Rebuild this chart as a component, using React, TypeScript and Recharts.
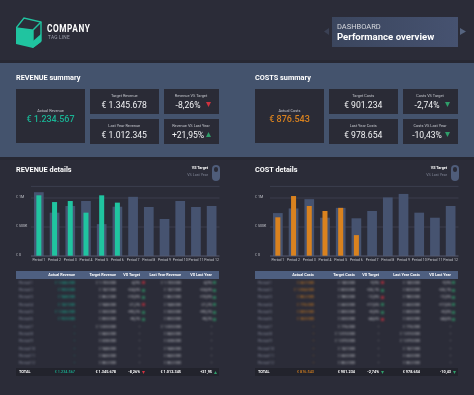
import React from "react";
import { BarChart, Bar, XAxis, YAxis, CartesianGrid } from "recharts";

const periods = ["Period 1", "Period 2", "Period 3", "Period 4", "Period 5", "Period 6", "Period 7", "Period 8", "Period 9", "Period 10", "Period 11", "Period 12"];
const yTicks = [0, 500000, 1000000];
const yTickLabels = ["€ 0", "€ 500K", "€ 1M"];

const revenueTarget = [1100000, 747000, 862000, 948000, 550000, 850000, 1020000, 845000, 638000, 948000, 845000, 862000];
const revenueActual = [1046000, 930000, 948000, 747000, 1046000, 920000, null, null, null, null, null, null];
const costTarget = [740000, 820000, 980000, 660000, 830000, 650000, 776000, 1010000, 1070000, 747000, 660000, 862000];
const costActual = [667000, 1034000, 862000, 776000, 830000, 360000, null, null, null, null, null, null];

const revenueHeaders = ["Actual Revenue", "Target Revenue", "VS Target", "Last Year Revenue", "VS Last Year"];
const costHeaders = ["Actual Costs", "Target Costs", "VS Target", "Last Year Costs", "VS Last Year"];

const revActualCells = ["€ 1.046.000", "€ 930.000", "€ 948.000", "€ 747.000", "€ 1.046.000", "€ 920.000", "-", "-", "-", "-", "-", "-"];
const revTargetCells = ["€ 1.100.000", "€ 747.000", "€ 862.000", "€ 948.000", "€ 550.000", "€ 850.000", "€ 1.020.000", "€ 845.000", "€ 638.000", "€ 948.000", "€ 845.000", "€ 862.000"];
const revVsCells = ["-4,9%", "+24,5%", "+10,0%", "-21,2%", "+90,2%", "+8,2%", "-", "-", "-", "-", "-", "-"];
const costActualCells = ["€ 667.000", "€ 1.034.000", "€ 862.000", "€ 776.000", "€ 830.000", "€ 360.000", "-", "-", "-", "-", "-", "-"];
const costTargetCells = ["€ 740.000", "€ 820.000", "€ 980.000", "€ 660.000", "€ 830.000", "€ 650.000", "€ 776.000", "€ 1.010.000", "€ 1.070.000", "€ 747.000", "€ 660.000", "€ 862.000"];
const costVsCells = ["-9,9%", "+26,1%", "-12,0%", "+17,6%", "+0,0%", "-44,6%", "-", "-", "-", "-", "-", "-"];

const revenueTotals = ["€ 1.234.567", "€ 1.345.678", "-8,26%", "€ 1.012.345", "+21,95"];
const costTotals = ["€ 876.543", "€ 901.234", "-2,74%", "€ 978.654", "-10,43"];

const GREEN = "#20c4a0";
const ORANGE = "#d9821f";
const SLATE = "#465370";
const UP = "#2f9e6a";
const DOWN = "#d0323f";
const FONT = "Roboto, sans-serif";

function Txt({ x, y, size, color = "#fff", weight = 400, align = "left", font = FONT, spacing = 0, squeeze = 1, children }: any) {
  const shift = align === "center" ? "-50%" : align === "right" ? "-100%" : "0";
  return (
    <div
      style={{
        position: "absolute",
        left: x,
        top: y,
        transform: `translate(${shift}, -50%) scaleX(${squeeze})`,
        transformOrigin: "left center",
        fontFamily: font,
        fontSize: size,
        fontWeight: weight,
        color,
        letterSpacing: spacing,
        lineHeight: 1,
        whiteSpace: "nowrap",
      }}
    >
      {children}
    </div>
  );
}

function Box({ x, y, w, h, color, radius = 0, opacity = 1 }: any) {
  return <div style={{ position: "absolute", left: x, top: y, width: w, height: h, background: color, borderRadius: radius, opacity }} />;
}

function Arrow({ x, y, up, color, size = 5 }: any) {
  const points = up ? `0,${size} ${size},${size} ${size / 2},0` : `0,0 ${size},0 ${size / 2},${size}`;
  return (
    <svg style={{ position: "absolute", left: x, top: y - size / 2 }} width={size} height={size}>
      <polygon points={points} fill={color} />
    </svg>
  );
}

function Card({ x, y, w, h, label, value, arrow }: any) {
  return (
    <>
      <Box x={x} y={y} w={w} h={h} color="#2a2b36" />
      <Txt x={x + w / 2} y={y + 7} size={3.9} color="#c4c6cc" align="center">{label}</Txt>
      <Txt x={x + w / 2 - (arrow ? 3 : 0)} y={y + 15.5} size={8.6} color="#f2f3f5" align="center">{value}</Txt>
      {arrow && <Arrow x={x + w / 2 + 15} y={y + 15.5} up={arrow.up} color={arrow.color} />}
    </>
  );
}

function Summary({ x, title, actualLabel, actual, actualColor, targetLabel, target, lastLabel, last, vsTargetLabel, vsTarget, vsLastLabel, vsLast, arrowTarget, arrowLast }: any) {
  return (
    <>
      <Txt x={x} y={77.5} size={7.3} weight={700}>{title}</Txt>
      <Box x={x} y={89} w={69} h={54} color="#2a2b36" />
      <Txt x={x + 34.5} y={111} size={3.9} color="#c4c6cc" align="center">{actualLabel}</Txt>
      <Txt x={x + 34.5} y={119} size={9} color={actualColor} weight={500} align="center">{actual}</Txt>
      <Card x={x + 74} y={89} w={68.5} h={25} label={targetLabel} value={target} />
      <Card x={x + 74} y={119} w={68.5} h={24.5} label={lastLabel} value={last} />
      <Card x={x + 147.5} y={89} w={55} h={25} label={vsTargetLabel} value={vsTarget} arrow={arrowTarget} />
      <Card x={x + 147.5} y={119} w={55} h={24.5} label={vsLastLabel} value={vsLast} arrow={arrowLast} />
    </>
  );
}

function YTick({ y, payload }: any) {
  const idx = yTicks.indexOf(payload.value);
  return (
    <text x={0} y={y - 1} fontSize={3.6} fill="#c4c6cc" fontFamily={FONT} dominantBaseline="middle">
      {yTickLabels[idx]}
    </text>
  );
}

function XTick({ x, y, payload }: any) {
  return (
    <text x={x} y={y + 2.5} fontSize={3.5} fill="#c4c6cc" fontFamily={FONT} textAnchor="middle" dominantBaseline="middle">
      {payload.value}
    </text>
  );
}

// narrow bar drawn inside the wide one, same scale
function NarrowBar({ x, y, width, height, fill }: any) {
  if (!height) return null;
  return <rect x={x + width / 2 - 2.5} y={y} width={5} height={height} fill={fill} />;
}

function DetailChart({ x, target, actual, color }: any) {
  const rows = periods.map((period, i) => ({ period, target: target[i], actual: actual[i] }));
  return (
    <div style={{ position: "absolute", left: x, top: 180 }}>
      <BarChart width={203.5} height={86} data={rows} barGap={-9.7} margin={{ top: 6.4, right: 0, bottom: 0, left: 0 }}>
        <CartesianGrid horizontal vertical={false} stroke="#474c5c" strokeWidth={0.6} />
        <XAxis
          dataKey="period"
          height={10}
          interval={0}
          tick={<XTick />}
          tickLine={false}
          tickSize={0}
          axisLine={{ stroke: "#5a6072", strokeWidth: 0.7 }}
        />
        <YAxis
          domain={[0, 1200000]}
          ticks={yTicks}
          width={15}
          tick={<YTick />}
          axisLine={false}
          tickLine={false}
          interval={0}
        />
        <Bar dataKey="target" fill={SLATE} barSize={9.7} isAnimationActive={false} />
        <Bar dataKey="actual" fill={color} barSize={9.7} shape={<NarrowBar />} isAnimationActive={false} />
      </BarChart>
    </div>
  );
}

function Toggle({ right }: any) {
  return (
    <>
      <Txt x={right - 11} y={169.2} size={3.7} weight={700} align="right">VS Target</Txt>
      <Txt x={right - 11} y={176} size={3.7} color="#7f8494" align="right">VS Last Year</Txt>
      <Box x={right - 7} y={165} w={7.5} h={16} color="#4f5d7a" radius={4} />
      <div style={{ position: "absolute", left: right - 5.5, top: 166.5, width: 4.5, height: 5.5, background: "#2a2b36", borderRadius: 3 }} />
    </>
  );
}

function DetailTable({ x, headers, actualCells, targetCells, vsCells, totals, actualColor, totalArrows }: any) {
  const rowY = (i: number) => 282.7 + 7.33 * i;
  return (
    <>
      <Box x={x} y={271} w={203} h={8.3} color="#4e5f80" />
      <Txt x={x + 59} y={275.2} size={3.8} weight={700} align="right">{headers[0]}</Txt>
      <Txt x={x + 100} y={275.2} size={3.8} weight={700} align="right">{headers[1]}</Txt>
      <Txt x={x + 124} y={275.2} size={3.8} weight={700} align="right">{headers[2]}</Txt>
      <Txt x={x + 165} y={275.2} size={3.8} weight={700} align="right">{headers[3]}</Txt>
      <Txt x={x + 196} y={275.2} size={3.8} weight={700} align="right">{headers[4]}</Txt>
      <div style={{ position: "absolute", left: 0, top: 0, filter: "blur(0.9px)" }}>
        {periods.map((period, i) => {
          const up = vsCells[i].startsWith("+");
          const filled = vsCells[i] !== "-";
          return (
            <React.Fragment key={period}>
              <Txt x={x + 3} y={rowY(i)} size={3.8} color="#8d93a3">{period}</Txt>
              <Txt x={x + 59} y={rowY(i)} size={3.8} color={actualColor} align="right">{actualCells[i]}</Txt>
              <Txt x={x + 100} y={rowY(i)} size={3.8} color="#c4c6cc" align="right">{targetCells[i]}</Txt>
              <Txt x={x + 124} y={rowY(i)} size={3.8} color="#c4c6cc" align="right">{vsCells[i]}</Txt>
              <Txt x={x + 165} y={rowY(i)} size={3.8} color="#c4c6cc" align="right">{targetCells[i]}</Txt>
              <Txt x={x + 196} y={rowY(i)} size={3.8} color="#c4c6cc" align="right">{vsCells[i]}</Txt>
              {filled && <Box x={x + 125.5} y={rowY(i) - 1.5} w={3} h={3} color={up ? UP : DOWN} opacity={0.7} />}
              {filled && <Box x={x + 197} y={rowY(i) - 1.5} w={3} h={3} color={UP} opacity={0.7} />}
            </React.Fragment>
          );
        })}
      </div>
      <Box x={x} y={368} w={203} h={8} color="#22232c" />
      <Txt x={x + 3} y={372} size={3.8} weight={700}>TOTAL</Txt>
      <Txt x={x + 59} y={372} size={3.8} color={actualColor} weight={500} align="right">{totals[0]}</Txt>
      <Txt x={x + 100} y={372} size={3.8} weight={700} align="right">{totals[1]}</Txt>
      <Txt x={x + 124} y={372} size={3.8} weight={700} align="right">{totals[2]}</Txt>
      <Arrow x={x + 125.5} y={372} up={totalArrows[0].up} color={totalArrows[0].color} size={3} />
      <Txt x={x + 165} y={372} size={3.8} weight={700} align="right">{totals[3]}</Txt>
      <Txt x={x + 196} y={372} size={3.8} weight={700} align="right">{totals[4]}</Txt>
      <Arrow x={x + 197.5} y={372} up={totalArrows[1].up} color={totalArrows[1].color} size={3} />
    </>
  );
}

export default function App() {
  return (
    <div style={{ position: "absolute", left: 0, top: 0, width: 474, height: 395, overflow: "hidden", background: "#2b2c38", filter: "blur(0.25px)" }}>
      <svg style={{ position: "absolute", left: 16, top: 17 }} width={26} height={31} viewBox="0 0 26 31">
        <polygon points="0,11 17,13 17,31 0,27" fill={GREEN} />
        <polygon points="17,24 25,17 25,25 17,31" fill={GREEN} />
        <polygon points="0,11 8,1 25,5 25,24 17,30 17,13 0,11 " fill="none" stroke={GREEN} strokeWidth={1.4} />
        <line x1="17" y1="13" x2="25" y2="5" stroke={GREEN} strokeWidth={1.4} />
      </svg>
      <Txt x={47} y={28} size={11} weight={700} spacing={0.8} squeeze={0.75}>COMPANY</Txt>
      <Txt x={48} y={38} size={4.8} color="#9a9dab" spacing={0.2}>TAG LINE</Txt>

      <div style={{ position: "absolute", left: 332, top: 17, width: 126, height: 30, background: "linear-gradient(90deg, #3b465e, #465270)" }} />
      <Txt x={337} y={27} size={7.5} color="#d7d9de">DASHBOARD</Txt>
      <Txt x={337} y={37} size={9.6} weight={700}>Performance overview</Txt>
      <svg style={{ position: "absolute", left: 324, top: 28 }} width={5} height={7}>
        <polygon points="5,0 5,7 0,3.5" fill="#3b4154" />
      </svg>
      <svg style={{ position: "absolute", left: 460, top: 28 }} width={6} height={7}>
        <polygon points="0,0 0,7 6,3.5" fill="#56647f" />
      </svg>

      <Box x={0} y={60} w={474} h={2.5} color="#272833" />
      <Box x={0} y={62.5} w={474} h={94.5} color="#44536d" />
      <Box x={0} y={157} w={474} h={2.5} color="#272833" />

      <Summary
        x={16}
        title="REVENUE summary"
        actualLabel="Actual Revenue"
        actual="€ 1.234.567"
        actualColor="#19b394"
        targetLabel="Target Revenue"
        target="€ 1.345.678"
        lastLabel="Last Year Revenue"
        last="€ 1.012.345"
        vsTargetLabel="Revenue VS Target"
        vsTarget="-8,26%"
        vsLastLabel="Revenue VS Last Year"
        vsLast="+21,95%"
        arrowTarget={{ up: false, color: DOWN }}
        arrowLast={{ up: true, color: UP }}
      />
      <Summary
        x={255}
        title="COSTS summary"
        actualLabel="Actual Costs"
        actual="€ 876.543"
        actualColor={ORANGE}
        targetLabel="Target Costs"
        target="€ 901.234"
        lastLabel="Last Year Costs"
        last="€ 978.654"
        vsTargetLabel="Costs VS Target"
        vsTarget="-2,74%"
        vsLastLabel="Costs VS Last Year"
        vsLast="-10,43%"
        arrowTarget={{ up: false, color: UP }}
        arrowLast={{ up: false, color: UP }}
      />

      <Txt x={16} y={170} size={7.3} weight={700}>REVENUE details</Txt>
      <Txt x={255} y={170} size={7.3} weight={700}>COST details</Txt>
      <Toggle right={219} />
      <Toggle right={458} />

      <DetailChart x={16} target={revenueTarget} actual={revenueActual} color={GREEN} />
      <DetailChart x={255} target={costTarget} actual={costActual} color={ORANGE} />

      <DetailTable
        x={16}
        headers={revenueHeaders}
        actualCells={revActualCells}
        targetCells={revTargetCells}
        vsCells={revVsCells}
        totals={revenueTotals}
        actualColor="#19b394"
        totalArrows={[{ up: false, color: DOWN }, { up: true, color: UP }]}
      />
      <DetailTable
        x={255}
        headers={costHeaders}
        actualCells={costActualCells}
        targetCells={costTargetCells}
        vsCells={costVsCells}
        totals={costTotals}
        actualColor={ORANGE}
        totalArrows={[{ up: false, color: UP }, { up: false, color: UP }]}
      />
    </div>
  );
}
